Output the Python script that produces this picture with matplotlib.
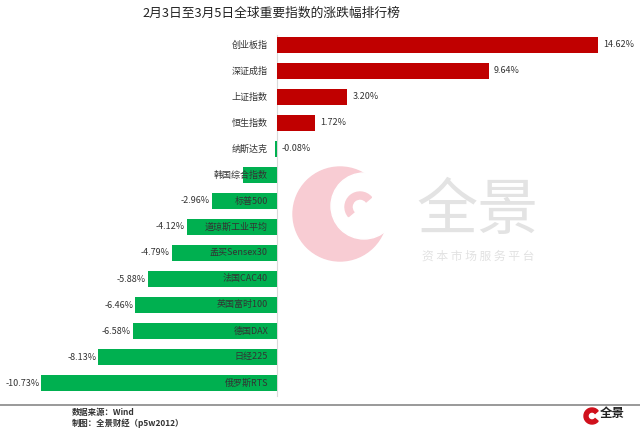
import matplotlib.pyplot as plt
from matplotlib.patches import Wedge, Circle

plt.rcParams['font.family'] = ['Noto Sans CJK SC', 'DejaVu Sans']

# data
names = ['创业板指', '深证成指', '上证指数', '恒生指数', '纳斯达克', '韩国综合指数', '标普500',
         '道琼斯工业平均', '孟买Sensex30', '法国CAC40', '英国富时100', '德国DAX', '日经225', '俄罗斯RTS']
values = [14.62, 9.64, 3.20, 1.72, -0.08, -1.55, -2.96, -4.12, -4.79, -5.88, -6.46, -6.58, -8.13, -10.73]
show_label = [True] * 14
show_label[5] = False  # hidden behind the category label in the original

red = '#C00000'
green = '#00B050'

fig = plt.figure(figsize=(6.4, 4.28), dpi=100)

# watermark (drawn first, behind the bars)
wm = fig.add_axes([0, 0, 1, 1])
wm.set_xlim(0, 640)
wm.set_ylim(428, 0)
wm.set_aspect('equal')
wm.axis('off')
pink = '#f8ccd3'
wm.add_patch(Circle((340, 214), 47, color=pink))
wm.add_patch(Circle((364, 206), 33, color='white'))
wm.add_patch(Wedge((360, 207), 15, 140, 320, width=7, color=pink))
wm.text(478, 212, '全景', fontsize=44, color='#e3e3e3', ha='center', va='center')
wm.text(478, 256, '资 本 市 场 服 务 平 台', fontsize=8.5, color='#e2e2e2', ha='center', va='center')

# small logo
wm.add_patch(Wedge((592, 416), 8, 40, 320, width=4, color='#d0101c'))
wm.text(612, 414, '全景', fontsize=9, color='#222222', ha='center', va='center', fontweight='bold')

ax = fig.add_axes([0, 0, 1, 1])
ax.patch.set_alpha(0)
ppu = 21.96  # pixels per percent
ax.set_xlim(-277 / ppu, (640 - 277) / ppu)
ax.set_ylim((428 - 45) / 26, -45 / 26)
ax.axis('off')

ypos = list(range(len(names)))
colors = [red if v > 0 else green for v in values]
ax.barh(ypos, values, height=0.6, color=colors, zorder=3)
ax.plot([0, 0], [-0.4, 13.5], color='#d9d9d9', lw=0.8, zorder=2)

lab_x = -9 / ppu
for y, n, v, s in zip(ypos, names, values, show_label):
    ax.text(lab_x, y, n, ha='right', va='center', fontsize=6.5, color='#333333', zorder=4)
    if not s:
        continue
    if v > -0.5:
        ax.text(max(v, 0) + 5 / ppu, y, f'{v:.2f}%', ha='left', va='center', fontsize=6.5, color='#333333')
    else:
        ax.text(v - 2 / ppu, y, f'{v:.2f}%', ha='right', va='center', fontsize=6.5, color='#333333')

fig.text(271 / 640, 1 - 13 / 428, '2月3日至3月5日全球重要指数的涨跌幅排行榜', ha='center', va='center',
         fontsize=9.2, color='#222222')

# bottom rule and footnotes
fig.add_artist(plt.Line2D([0, 1], [1 - 405 / 428, 1 - 405 / 428], color='#888888', lw=1.2))
fig.text(72 / 640, 1 - 412 / 428, '数据来源：Wind', fontsize=6, color='#333333', va='center',
         fontweight='bold')
fig.text(72 / 640, 1 - 423 / 428, '制图：全景财经（p5w2012）', fontsize=6, color='#333333', va='center',
         fontweight='bold')

fig.savefig('out.png', dpi=100)
